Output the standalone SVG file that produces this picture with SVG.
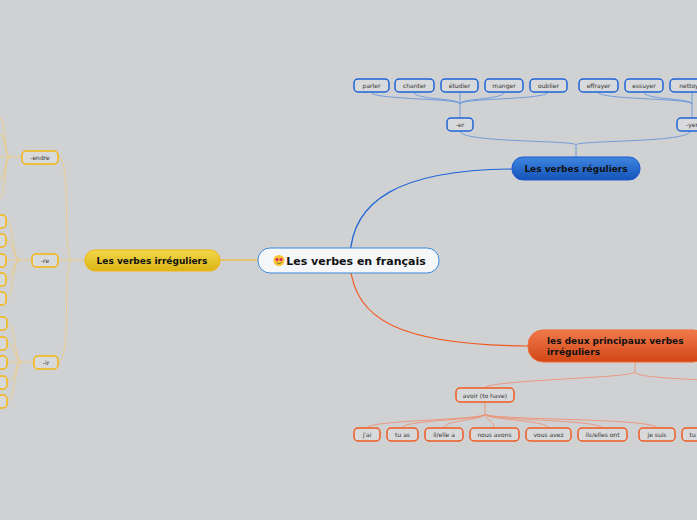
<svg xmlns="http://www.w3.org/2000/svg" width="697" height="520" viewBox="0 0 697 520">
<defs>
<linearGradient id="gb" x1="0" y1="0" x2="0" y2="1"><stop offset="0" stop-color="#3f86e0"/><stop offset="1" stop-color="#1353b8"/></linearGradient>
<linearGradient id="gy" x1="0" y1="0" x2="0" y2="1"><stop offset="0" stop-color="#f3d84a"/><stop offset="1" stop-color="#d9b314"/></linearGradient>
<linearGradient id="go" x1="0" y1="0" x2="0" y2="1"><stop offset="0" stop-color="#f07a4c"/><stop offset="1" stop-color="#d24615"/></linearGradient>
</defs>
<style>
text{font-family:"DejaVu Sans","Noto Sans",sans-serif;text-anchor:middle}
.s{font-size:6px;fill:#333}
.b{fill:#d8d9db;stroke:#1c64d8;stroke-width:1.5}
.y{fill:#d8d9db;stroke:#f5b50f;stroke-width:1.5}
.o{fill:#d8d9db;stroke:#f05a20;stroke-width:1.5}
.lb{fill:none;stroke:#5b8fdc;stroke-width:0.8}
.ly{fill:none;stroke:#f1cc7a;stroke-width:0.8}
.lo{fill:none;stroke:#f08a6a;stroke-width:0.8}
.m{font-size:9px;font-weight:bold;fill:#111}
</style>
<rect width="697" height="520" fill="#d0d1d3"/>
<g id="connectors">
<path d="M350,260 C350,200 400,170 512,169" fill="none" stroke="#1c64d8" stroke-width="1.2"/>
<path d="M350,265 C355,320 400,345 528,346" fill="none" stroke="#f05a20" stroke-width="1.2"/>
<path d="M220,260 L258,260" stroke="#f5b50f" stroke-width="1"/>
<path class="lb" d="M576,157 V145 C576,140 460,143 460,131 M576,145 C576,140 690,143 690,131"/>
<path class="lb" d="M460,118 V104 M460,104 C460,98 371,100 371,92 M460,104 C460,98 414,100 414,92 M460,104 V92 M460,104 C460,98 504,100 504,92 M460,104 C460,98 548,100 548,92"/>
<path class="lb" d="M692,118 V104 M692,104 C692,98 598,100 598,92 M692,104 C692,98 644,100 644,92 M692,104 V92"/>
<path class="lo" d="M635,362 V372 C635,378 485,380 485,388 M635,372 C635,378 697,379 697,380"/>
<path class="lo" d="M485,402 V414 M485,414 C485,420 367,420 367,428 M485,414 C485,420 402,420 402,428 M485,414 C485,420 444,420 444,428 M485,414 C485,420 494,420 494,428 M485,414 C485,420 548,420 548,428 M485,414 C485,420 602,420 602,428 M485,414 C485,420 657,418 657,428"/>
<path class="ly" d="M85,260 H72 M72,260 C62,260 72,157 58,157 M72,260 H58 M72,260 C62,260 72,362 58,362"/>
<path class="ly" d="M22,157 H10 M10,157 C4,157 6,120 0,118 M10,157 C4,157 6,135 0,134 M10,157 H0 M10,157 C4,157 6,178 0,180 M10,157 C4,157 6,195 0,198"/>
<path class="ly" d="M32,260 H20 M20,260 C12,260 14,221 6,221 M20,260 C12,260 14,240 6,240 M20,260 H6 M20,260 C12,260 14,279 6,279 M20,260 C12,260 14,298 6,298"/>
<path class="ly" d="M34,362 H22 M22,362 C14,362 16,323 7,323 M22,362 C14,362 16,343 7,343 M22,362 H7 M22,362 C14,362 16,382 7,382 M22,362 C14,362 16,401 7,401"/>
</g>
<g id="center"><rect x="258" y="248" width="181" height="25" rx="12" fill="#f4f6f8" stroke="#3b8ad8" stroke-width="1"/>
<circle cx="279" cy="260.5" r="5.5" fill="#f7c535"/><circle cx="277" cy="259.5" r="1.6" fill="#e0245e"/><circle cx="281" cy="259.5" r="1.6" fill="#e0245e"/><path d="M276.5,262.5 Q279,265 281.5,262.5" stroke="#664" fill="none" stroke-width="0.8"/>
<text x="356" y="265" font-size="11" font-weight="bold" fill="#111">Les verbes en français</text></g>
<g id="reguliers"><rect x="512" y="157" width="128" height="23" rx="11" fill="url(#gb)" stroke="#1c5ad0"/><text class="m" x="576" y="172">Les verbes réguliers</text></g>
<g id="irreguliers"><rect x="85" y="250" width="135" height="21" rx="10" fill="url(#gy)" stroke="#f5b50f"/><text class="m" x="152" y="264">Les verbes irréguliers</text></g>
<g id="principaux"><rect x="528" y="330" width="180" height="32" rx="15" fill="url(#go)" stroke="#f06a30"/><text class="m" x="547" y="344" style="text-anchor:start">les deux principaux verbes</text><text class="m" x="547" y="355" style="text-anchor:start">irréguliers</text></g>
<g id="er"><rect class="b" x="447" y="118" width="26" height="13" rx="4"/><text class="s" x="460" y="127">-er</text></g>
<g id="yer"><rect class="b" x="677" y="118" width="30" height="13" rx="4"/><text class="s" x="692" y="127">-yer</text></g>
<g id="parler"><rect class="b" x="354" y="79" width="35" height="13" rx="4"/><text class="s" x="371.5" y="88">parler</text></g>
<g id="chanter"><rect class="b" x="395" y="79" width="39" height="13" rx="4"/><text class="s" x="414.5" y="88">chanter</text></g>
<g id="etudier"><rect class="b" x="441" y="79" width="37" height="13" rx="4"/><text class="s" x="459.5" y="88">étudier</text></g>
<g id="manger"><rect class="b" x="485" y="79" width="38" height="13" rx="4"/><text class="s" x="504" y="88">manger</text></g>
<g id="oublier"><rect class="b" x="530" y="79" width="37" height="13" rx="4"/><text class="s" x="548.5" y="88">oublier</text></g>
<g id="effrayer"><rect class="b" x="579" y="79" width="39" height="13" rx="4"/><text class="s" x="598.5" y="88">effrayer</text></g>
<g id="essuyer"><rect class="b" x="625" y="79" width="38" height="13" rx="4"/><text class="s" x="644" y="88">essuyer</text></g>
<g id="nettoyer"><rect class="b" x="670" y="79" width="44" height="13" rx="4"/><text class="s" x="692" y="88">nettoyer</text></g>
<g id="avoir"><rect class="o" x="456" y="388" width="58" height="14" rx="4"/><text class="s" x="485" y="397.5">avoir (to have)</text></g>
<g id="jai"><rect class="o" x="354" y="428" width="26" height="13" rx="4"/><text class="s" x="367" y="437">j'ai</text></g>
<g id="tuas"><rect class="o" x="387" y="428" width="31" height="13" rx="4"/><text class="s" x="402.5" y="437">tu as</text></g>
<g id="ilellea"><rect class="o" x="425" y="428" width="38" height="13" rx="4"/><text class="s" x="444" y="437">il/elle a</text></g>
<g id="nousavons"><rect class="o" x="470" y="428" width="49" height="13" rx="4"/><text class="s" x="494.5" y="437">nous avons</text></g>
<g id="vousavez"><rect class="o" x="526" y="428" width="45" height="13" rx="4"/><text class="s" x="548.5" y="437">vous avez</text></g>
<g id="ilsellesont"><rect class="o" x="578" y="428" width="49" height="13" rx="4"/><text class="s" x="602.5" y="437">ils/elles ont</text></g>
<g id="jesuis"><rect class="o" x="639" y="428" width="36" height="13" rx="4"/><text class="s" x="657" y="437">je suis</text></g>
<g id="tues"><rect class="o" x="682" y="428" width="30" height="13" rx="4"/><text class="s" x="697" y="437">tu es</text></g>
<g id="endre"><rect class="y" x="22" y="151" width="36" height="13" rx="4"/><text class="s" x="40" y="160">-endre</text></g>
<g id="re"><rect class="y" x="32" y="254" width="26" height="13" rx="4"/><text class="s" x="45" y="263">-re</text></g>
<g id="ir"><rect class="y" x="34" y="356" width="24" height="13" rx="4"/><text class="s" x="46" y="365">-ir</text></g>
<g id="re-children"><rect class="y" x="-20" y="215" width="26" height="13" rx="4"/><rect class="y" x="-20" y="234" width="26" height="13" rx="4"/><rect class="y" x="-20" y="254" width="26" height="13" rx="4"/><rect class="y" x="-20" y="273" width="26" height="13" rx="4"/><rect class="y" x="-20" y="292" width="26" height="13" rx="4"/></g>
<g id="ir-children"><rect class="y" x="-20" y="317" width="27" height="13" rx="4"/><rect class="y" x="-20" y="337" width="27" height="13" rx="4"/><rect class="y" x="-20" y="356" width="27" height="13" rx="4"/><rect class="y" x="-20" y="376" width="27" height="13" rx="4"/><rect class="y" x="-20" y="395" width="27" height="13" rx="4"/></g>
</svg>
